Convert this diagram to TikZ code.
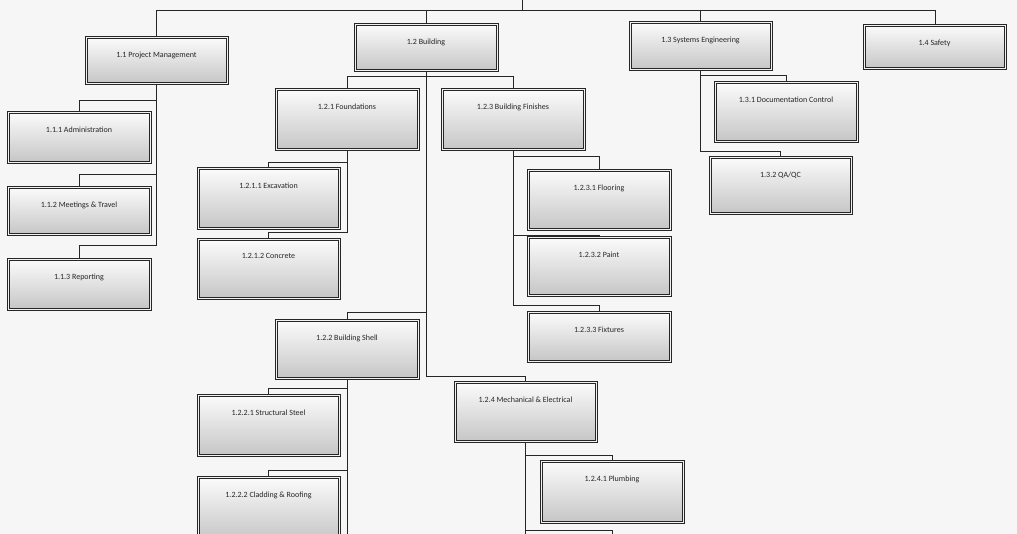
\documentclass[tikz,border=0pt]{standalone}
\usepackage{fontspec}
\setmainfont{Carlito}
\begin{document}
\begin{tikzpicture}[x=1pt,y=-1pt,
  box/.style={draw=black!85,double=white!90!gray,double distance=1.6pt,line width=0.7pt,top color=white!97!gray,bottom color=gray!45,anchor=north west,inner sep=0pt},
  lbl/.style={anchor=north,font=\fontsize{8}{9}\selectfont,text=black!85},
  ln/.style={draw=black!85,line width=0.7pt}]
\fill[white!93!gray] (0,0) rectangle (1017,534);
\useasboundingbox (0,0) rectangle (1017,534);
\newcommand\bx[6]{\node[box,minimum width=#4-#2,minimum height=#5-#3] (#1) at (#2,#3) {};
  \node[lbl] at ($(#1.north)+(0,-11)$) {#6};}
\newcommand\bxx[6]{\node[box,minimum width=#4-#2,minimum height=#5-#3] (#1) at (#2,#3) {};
  \node[lbl] (#1t) at (#2/2+#4/2,#3+11) {#6};}
% connectors
\coordinate (root) at (522,0);
\draw[ln] (root) -- (522,10);
\draw[ln] (156,37) -- (156,10) -- (935,10) -- (935,25);
\draw[ln] (426,10) -- (426,24);
\draw[ln] (700,10) -- (700,22);
\draw[ln] (156,83) -- (156,245) -- (79,245) -- (79,259);
\draw[ln] (156,100) -- (79,100) -- (79,112);
\draw[ln] (156,174) -- (79,174) -- (79,187);
\draw[ln] (426,70) -- (426,376) -- (525,376) -- (525,382);
\draw[ln] (347,89) -- (347,76) -- (513,76) -- (513,89);
\draw[ln] (426,312) -- (347,312) -- (347,320);
\draw[ln] (347,149) -- (347,232) -- (268,232) -- (268,239);
\draw[ln] (347,162) -- (268,162) -- (268,168);
\draw[ln] (513,149) -- (513,305) -- (599,305) -- (599,312);
\draw[ln] (513,156) -- (599,156) -- (599,170);
\draw[ln] (513,235) -- (599,235) -- (599,237);
\draw[ln] (700,69) -- (700,151) -- (780,151) -- (780,157);
\draw[ln] (700,75) -- (786,75) -- (786,82);
\draw[ln] (347,378) -- (347,534);
\draw[ln] (347,388) -- (268,388) -- (268,395);
\draw[ln] (347,470) -- (268,470) -- (268,477);
\draw[ln] (525,441) -- (525,534);
\draw[ln] (525,455) -- (612,455) -- (612,461);
\draw[ln] (525,530) -- (612,530) -- (612,534);
% boxes
\bxx{pm}{86}{37}{227}{83}{1.1 Project Management}
\bxx{bu}{355}{24}{497}{70}{1.2 Building}
\bxx{se}{630}{22}{771}{69}{1.3 Systems Engineering}
\bxx{sa}{864}{25}{1005}{68}{1.4 Safety}
\bxx{ad}{8}{112}{150}{162}{1.1.1 Administration}
\bxx{mt}{8}{187}{150}{234}{1.1.2 Meetings \& Travel}
\bxx{rp}{8}{259}{150}{309}{1.1.3 Reporting}
\bxx{fo}{276}{89}{418}{149}{1.2.1 Foundations}
\bxx{bf}{442}{89}{584}{149}{1.2.3 Building Finishes}
\bxx{ex}{198}{168}{339}{228}{1.2.1.1 Excavation}
\bxx{co}{198}{239}{339}{298}{1.2.1.2 Concrete}
\bxx{fl}{528}{170}{670}{229}{1.2.3.1 Flooring}
\bxx{pa}{528}{237}{670}{295}{1.2.3.2 Paint}
\bxx{fx}{528}{312}{670}{361}{1.2.3.3 Fixtures}
\bxx{dc}{715}{82}{857}{141}{1.3.1 Documentation Control}
\bxx{qa}{710}{157}{851}{213}{1.3.2 QA/QC}
\bxx{bs}{276}{320}{418}{378}{1.2.2 Building Shell}
\bxx{st}{198}{395}{339}{455}{1.2.2.1 Structural Steel}
\bxx{cr}{198}{477}{339}{540}{1.2.2.2 Cladding \& Roofing}
\bxx{me}{455}{382}{596}{441}{1.2.4 Mechanical \& Electrical}
\bxx{pl}{541}{461}{683}{522}{1.2.4.1 Plumbing}
\end{tikzpicture}
\end{document}
